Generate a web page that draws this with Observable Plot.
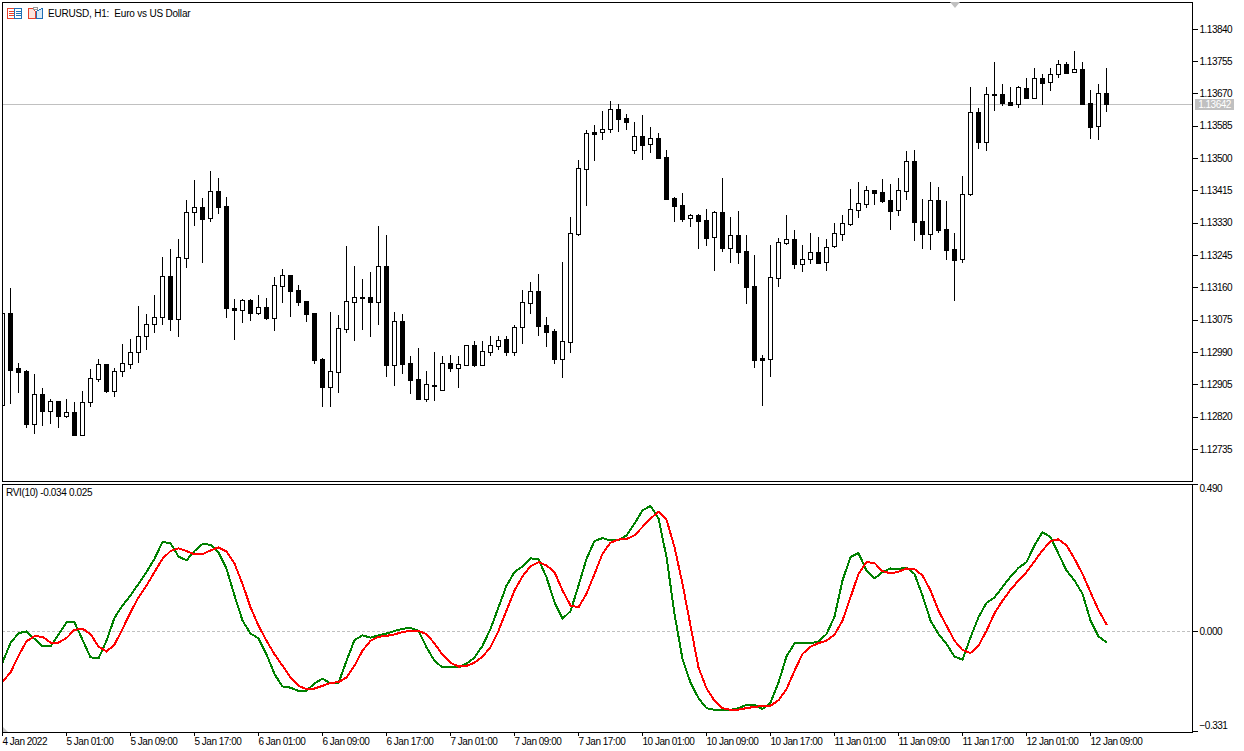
<!DOCTYPE html>
<html>
<head>
<meta charset="utf-8">
<script src="https://cdn.jsdelivr.net/npm/d3@7"></script>
<script src="https://cdn.jsdelivr.net/npm/@observablehq/plot@0.6"></script>
<style>
  html, body { margin: 0; padding: 0; background: #fff; }
  #page { position: relative; width: 1244px; height: 751px; overflow: hidden; font-family: "Liberation Sans", sans-serif; font-size: 10px; color: #000; }
  #page > svg { position: absolute; left: 0; overflow: visible; }
  .lab { position: absolute; white-space: pre; line-height: 12px; font-size: 10px; letter-spacing: -0.2px; }
</style>
</head>
<body>
<div id="page">
  <div id="price"></div>
  <div id="rvi"></div>
  <svg id="deco" width="1244" height="751" style="top:0;pointer-events:none" shape-rendering="crispEdges">
    <g fill="none" stroke-width="1">
      <rect x="7.5" y="8.5" width="7" height="10" stroke="#e8402a"/>
      <path d="M9 11.5h5M9 13.5h5M9 15.5h5" stroke="#e8402a"/>
      <rect x="14.5" y="8.5" width="7" height="10" stroke="#1f6fb5"/>
      <path d="M16 11.5h5M16 13.5h5M16 15.5h5" stroke="#1f6fb5"/>
      <path d="M28.5 8.5h5l2 3v7h-7z" stroke="#e8402a" fill="#fde4dc"/>
      <path d="M36.5 18.5v-7l5-3h1v10z" stroke="#1f6fb5" fill="#d9e9f6"/>
      <rect x="33.5" y="7.5" width="4" height="2" stroke="#999"/>
    </g>
    <path d="M950 2h10l-5 6z" fill="#c0c0c0" shape-rendering="auto"/>
    <path d="M3 727l5 5h-5z" fill="#c8c8c8" shape-rendering="auto"/>
  </svg>
  <div class="lab" style="left:48px;top:8px;letter-spacing:-0.2px">EURUSD, H1:  Euro vs US Dollar</div>
  <div class="lab" style="left:6px;top:487px;letter-spacing:-0.35px">RVI(10) -0.034 0.025</div>
  <div class="lab" style="left:1195px;top:99px;width:39px;height:11px;background:#c0c0c0;color:#fff;text-align:center;line-height:11px;letter-spacing:-0.5px">1.13642</div>
</div>
<script>
const highs = [1.13090,1.13157,1.12962,1.12943,1.12931,1.12896,1.12867,1.12859,1.12867,1.12857,
1.12886,1.12944,1.12970,1.12959,1.12948,1.13012,1.13025,1.13110,1.13089,1.13141,
1.13239,1.13262,1.13286,1.13389,1.13441,1.13394,1.13465,1.13447,1.13397,1.13128,
1.13128,1.13128,1.13141,1.13133,1.13186,1.13207,1.13191,1.13165,1.13123,1.13091,
1.12975,1.13094,1.13086,1.13268,1.13215,1.13183,1.13199,1.13320,1.13297,1.13094,
1.13091,1.12978,1.12999,1.12941,1.12989,1.12978,1.12981,1.12978,1.13006,1.13018,
1.13018,1.13033,1.13033,1.13033,1.13060,1.13152,1.13175,1.13194,1.13083,1.13049,
1.13226,1.13344,1.13494,1.13573,1.13586,1.13623,1.13649,1.13641,1.13615,1.13594,
1.13612,1.13583,1.13565,1.13520,1.13397,1.13407,1.13354,1.13354,1.13365,1.13362,
1.13447,1.13344,1.13362,1.13297,1.13244,1.12981,1.13270,1.13289,1.13349,1.13312,
1.13270,1.13302,1.13291,1.13286,1.13328,1.13349,1.13418,1.13436,1.13426,1.13415,
1.13444,1.13433,1.13447,1.13518,1.13520,1.13391,1.13436,1.13423,1.13386,1.13304,
1.13454,1.13686,1.13633,1.13686,1.13754,1.13694,1.13686,1.13689,1.13710,1.13736,
1.13720,1.13736,1.13757,1.13752,1.13781,1.13752,1.13678,1.13694,1.13736];
const lows = [1.12850,1.12852,1.12883,1.12791,1.12775,1.12796,1.12799,1.12791,1.12815,1.12768,
1.12771,1.12846,1.12910,1.12881,1.12870,1.12925,1.12946,1.12962,1.12996,1.13041,
1.13062,1.13046,1.13028,1.13210,1.13320,1.13225,1.13331,1.13354,1.13078,1.13020,
1.13067,1.13070,1.13086,1.13075,1.13046,1.13118,1.13083,1.13110,1.13068,1.12957,
1.12844,1.12846,1.12883,1.13041,1.13018,1.13047,1.13028,1.13060,1.12925,1.12899,
1.12933,1.12878,1.12865,1.12857,1.12862,1.12886,1.12936,1.12896,1.12955,1.12949,
1.12952,1.12978,1.12996,1.12978,1.12978,1.13012,1.13091,1.13033,1.13004,1.12957,
1.12920,1.12986,1.13294,1.13373,1.13491,1.13547,1.13565,1.13568,1.13573,1.13510,
1.13494,1.13512,1.13497,1.13389,1.13333,1.13331,1.13318,1.13262,1.13268,1.13204,
1.13254,1.13223,1.13220,1.13115,1.12947,1.12847,1.12925,1.13160,1.13270,1.13207,
1.13199,1.13220,1.13220,1.13202,1.13263,1.13283,1.13320,1.13341,1.13368,1.13376,
1.13383,1.13312,1.13347,1.13389,1.13283,1.13260,1.13257,1.13304,1.13231,1.13125,
1.13225,1.13400,1.13525,1.13518,1.13625,1.13636,1.13639,1.13633,1.13655,1.13657,
1.13639,1.13676,1.13710,1.13723,1.13723,1.13641,1.13549,1.13547,1.13620];
const opens = [1.12850,1.13090,1.12946,1.12939,1.12800,1.12878,1.12834,1.12859,1.12821,1.12831,
1.12771,1.12856,1.12918,1.12957,1.12887,1.12938,1.12958,1.12988,1.13030,1.13061,
1.13080,1.13189,1.13076,1.13237,1.13356,1.13370,1.13340,1.13412,1.13373,1.13103,
1.13100,1.13125,1.13092,1.13107,1.13079,1.13163,1.13191,1.13152,1.13123,1.13091,
1.12970,1.12895,1.12937,1.13050,1.13121,1.13131,1.13132,1.13121,1.13215,1.12955,
1.13070,1.12960,1.12918,1.12866,1.12900,1.12889,1.12960,1.12947,1.12955,1.13007,
1.12954,1.12989,1.13005,1.13023,1.12989,1.13053,1.13118,1.13149,1.13060,1.13044,
1.12971,1.13016,1.13300,1.13471,1.13567,1.13566,1.13574,1.13628,1.13604,1.13519,
1.13557,1.13535,1.13552,1.13502,1.13394,1.13375,1.13340,1.13349,1.13336,1.13290,
1.13357,1.13263,1.13297,1.13254,1.13162,1.12973,1.12971,1.13184,1.13276,1.13286,
1.13221,1.13232,1.13252,1.13224,1.13266,1.13300,1.13326,1.13363,1.13379,1.13415,
1.13410,1.13389,1.13363,1.13413,1.13491,1.13333,1.13300,1.13389,1.13312,1.13260,
1.13232,1.13403,1.13620,1.13542,1.13665,1.13668,1.13647,1.13640,1.13683,1.13658,
1.13710,1.13698,1.13719,1.13747,1.13724,1.13733,1.13644,1.13582,1.13670];
const closes = [1.13090,1.12942,1.12936,1.12799,1.12877,1.12833,1.12859,1.12821,1.12830,1.12770,
1.12856,1.12919,1.12956,1.12886,1.12938,1.12959,1.12988,1.13030,1.13061,1.13080,
1.13188,1.13076,1.13238,1.13356,1.13369,1.13339,1.13411,1.13370,1.13103,1.13100,
1.13124,1.13091,1.13106,1.13078,1.13164,1.13190,1.13149,1.13120,1.13089,1.12968,
1.12896,1.12938,1.13051,1.13122,1.13132,1.13133,1.13121,1.13214,1.12954,1.13069,
1.12957,1.12915,1.12865,1.12904,1.12902,1.12959,1.12946,1.12956,1.13006,1.12954,
1.12990,1.13006,1.13019,1.12989,1.13053,1.13119,1.13148,1.13057,1.13041,1.12970,
1.13017,1.13301,1.13472,1.13564,1.13563,1.13575,1.13627,1.13602,1.13594,1.13556,
1.13533,1.13551,1.13499,1.13391,1.13373,1.13339,1.13348,1.13333,1.13289,1.13356,
1.13262,1.13296,1.13252,1.13160,1.12968,1.12968,1.13185,1.13277,1.13285,1.13220,
1.13233,1.13251,1.13223,1.13264,1.13301,1.13327,1.13364,1.13380,1.13414,1.13407,
1.13386,1.13360,1.13414,1.13490,1.13331,1.13299,1.13388,1.13310,1.13257,1.13231,
1.13404,1.13619,1.13541,1.13667,1.13668,1.13644,1.13639,1.13685,1.13657,1.13709,
1.13697,1.13719,1.13746,1.13723,1.13733,1.13641,1.13581,1.13669,1.13642];

const rviGreen = [-0.101,-0.037,-0.004,0.002,-0.023,-0.048,-0.048,-0.008,0.032,0.032,
-0.026,-0.084,-0.088,-0.029,0.047,0.088,0.121,0.160,0.199,0.243,
0.299,0.295,0.251,0.238,0.269,0.292,0.290,0.265,0.210,0.121,
0.038,-0.005,-0.021,-0.074,-0.140,-0.181,-0.185,-0.196,-0.195,-0.171,
-0.155,-0.171,-0.169,-0.096,-0.027,-0.011,-0.019,-0.011,-0.005,0.003,
0.011,0.013,0.004,-0.051,-0.096,-0.118,-0.118,-0.118,-0.105,-0.085,
-0.046,0.010,0.082,0.154,0.199,0.218,0.245,0.241,0.182,0.099,
0.044,0.069,0.154,0.243,0.302,0.312,0.304,0.304,0.321,0.360,
0.404,0.419,0.377,0.249,0.060,-0.090,-0.168,-0.220,-0.253,-0.259,
-0.259,-0.259,-0.253,-0.242,-0.242,-0.256,-0.235,-0.168,-0.081,-0.038,
-0.038,-0.038,-0.031,-0.007,0.051,0.171,0.249,0.262,0.204,0.178,
0.199,0.211,0.209,0.214,0.193,0.121,0.038,-0.007,-0.040,-0.082,
-0.092,-0.018,0.049,0.097,0.115,0.149,0.184,0.213,0.232,0.288,
0.332,0.315,0.260,0.204,0.171,0.127,0.038,-0.015,-0.034];
const rviRed = [-0.165,-0.135,-0.079,-0.031,-0.014,-0.016,-0.035,-0.035,-0.020,0.007,
0.011,-0.007,-0.048,-0.065,-0.042,0.010,0.065,0.115,0.154,0.199,
0.243,0.269,0.278,0.269,0.258,0.258,0.271,0.281,0.267,0.227,
0.160,0.082,0.021,-0.029,-0.074,-0.112,-0.151,-0.179,-0.190,-0.188,
-0.179,-0.169,-0.167,-0.151,-0.112,-0.062,-0.029,-0.016,-0.013,-0.008,
0.000,0.004,0.004,-0.007,-0.038,-0.076,-0.102,-0.115,-0.113,-0.102,
-0.082,-0.051,0.004,0.071,0.138,0.185,0.218,0.232,0.221,0.199,
0.138,0.088,0.082,0.127,0.193,0.260,0.297,0.307,0.309,0.321,
0.349,0.377,0.399,0.373,0.282,0.160,0.021,-0.118,-0.187,-0.229,
-0.253,-0.259,-0.258,-0.253,-0.249,-0.246,-0.245,-0.227,-0.190,-0.129,
-0.073,-0.049,-0.037,-0.029,-0.009,0.038,0.115,0.193,0.232,0.229,
0.202,0.195,0.200,0.211,0.209,0.188,0.138,0.071,0.021,-0.029,
-0.060,-0.070,-0.046,0.004,0.062,0.104,0.140,0.171,0.199,0.235,
0.271,0.302,0.308,0.288,0.243,0.193,0.132,0.073,0.025];

const priceTicks = [1.1384,1.13755,1.1367,1.13585,1.135,1.13415,1.1333,1.13245,1.1316,1.13075,1.1299,1.12905,1.1282,1.12735];
const lastPrice = 1.13642;
const rviTicks = [0.49,0,-0.331];
const timeLabels = ["4 Jan 2022","5 Jan 01:00","5 Jan 09:00","5 Jan 17:00","6 Jan 01:00","6 Jan 09:00","6 Jan 17:00","7 Jan 01:00","7 Jan 09:00","7 Jan 17:00","10 Jan 01:00","10 Jan 09:00","10 Jan 17:00","11 Jan 01:00","11 Jan 09:00","11 Jan 17:00","12 Jan 01:00","12 Jan 09:00"];
const barsPerLabel = 8;

const bars = highs.map((high, i) => ({i, high, low: lows[i], open: opens[i], close: closes[i], top: Math.max(opens[i], closes[i]), bot: Math.min(opens[i], closes[i])}));
const xMax = 148.75;
const crisp = {shapeRendering: "crispEdges"};
const font = {fontFamily: "Liberation Sans, sans-serif", fontSize: 10, letterSpacing: "-0.5px", overflow: "visible", background: "transparent"};

const body = (filter, fill) => Plot.rect(bars.filter(filter), {x1: d => d.i - 0.25, x2: d => d.i + 0.25, y1: "bot", y2: "top", fill, stroke: "#000", strokeWidth: 1, clip: true, ...crisp});

const pricePlot = Plot.plot({
  width: 1244, height: 482,
  marginLeft: 2, marginRight: 52, marginTop: 2, marginBottom: 1,
  style: font,
  x: {type: "linear", domain: [0, xMax], axis: null},
  y: {type: "linear", domain: [1.126503, 1.139106], axis: null},
  marks: [
    Plot.ruleY([lastPrice], {stroke: "#c0c0c0", ...crisp}),
    Plot.ruleX(bars, {x: "i", y1: "low", y2: "high", stroke: "#000", strokeWidth: 1, clip: true, ...crisp}),
    body(d => d.close >= d.open, "#fff"),
    body(d => d.close < d.open, "#000"),
    Plot.frame({stroke: "#000", ...crisp}),
    Plot.axisY(priceTicks, {anchor: "right", tickSize: 5, tickFormat: d3.format(".5f"), tickPadding: 2, stroke: "#000", ...crisp, fontSize: 10})
  ]
});
document.getElementById("price").append(pricePlot);
pricePlot.style.top = "0px";
pricePlot.style.position = "absolute";

const rviPlot = Plot.plot({
  width: 1244, height: 268,
  marginLeft: 2, marginRight: 52, marginTop: 1, marginBottom: 19,
  style: font,
  x: {type: "linear", domain: [0, xMax], axis: null},
  y: {type: "linear", domain: [-0.334, 0.49], axis: null},
  marks: [
    Plot.ruleY([0], {stroke: "#c0c0c0", strokeDasharray: "3,2", ...crisp}),
    Plot.line(rviGreen, {x: (d, i) => i, y: d => d, stroke: "#008000", strokeWidth: 2, ...crisp, clip: true}),
    Plot.line(rviRed, {x: (d, i) => i, y: d => d, stroke: "#ff0000", strokeWidth: 2, ...crisp, clip: true}),
    Plot.frame({stroke: "#000", ...crisp}),
    Plot.axisY(rviTicks, {anchor: "right", tickSize: 5, text: null, stroke: "#000", ...crisp}),
    Plot.text([rviTicks[0]], {x: xMax, y: d => d, text: d => d3.format(".3f")(d), dx: 7, dy: 4, textAnchor: "start", fontSize: 10}),
    Plot.text([rviTicks[1]], {x: xMax, y: d => d, text: d => d3.format(".3f")(d), dx: 7, dy: 0, textAnchor: "start", fontSize: 10}),
    Plot.text([rviTicks[2]], {x: xMax, y: d => d, text: d => d3.format(".3f")(d), dx: 7, dy: -6, textAnchor: "start", fontSize: 10}),
    Plot.axisX(timeLabels.map((d, k) => k * barsPerLabel), {anchor: "bottom", tickSize: 4, tickPadding: 1, tickFormat: i => timeLabels[i / barsPerLabel], textAnchor: "start", stroke: "#000", ...crisp, fontSize: 10})
  ]
});
document.getElementById("rvi").append(rviPlot);
rviPlot.style.top = "483px";
rviPlot.style.position = "absolute";
</script>
</body>
</html>
